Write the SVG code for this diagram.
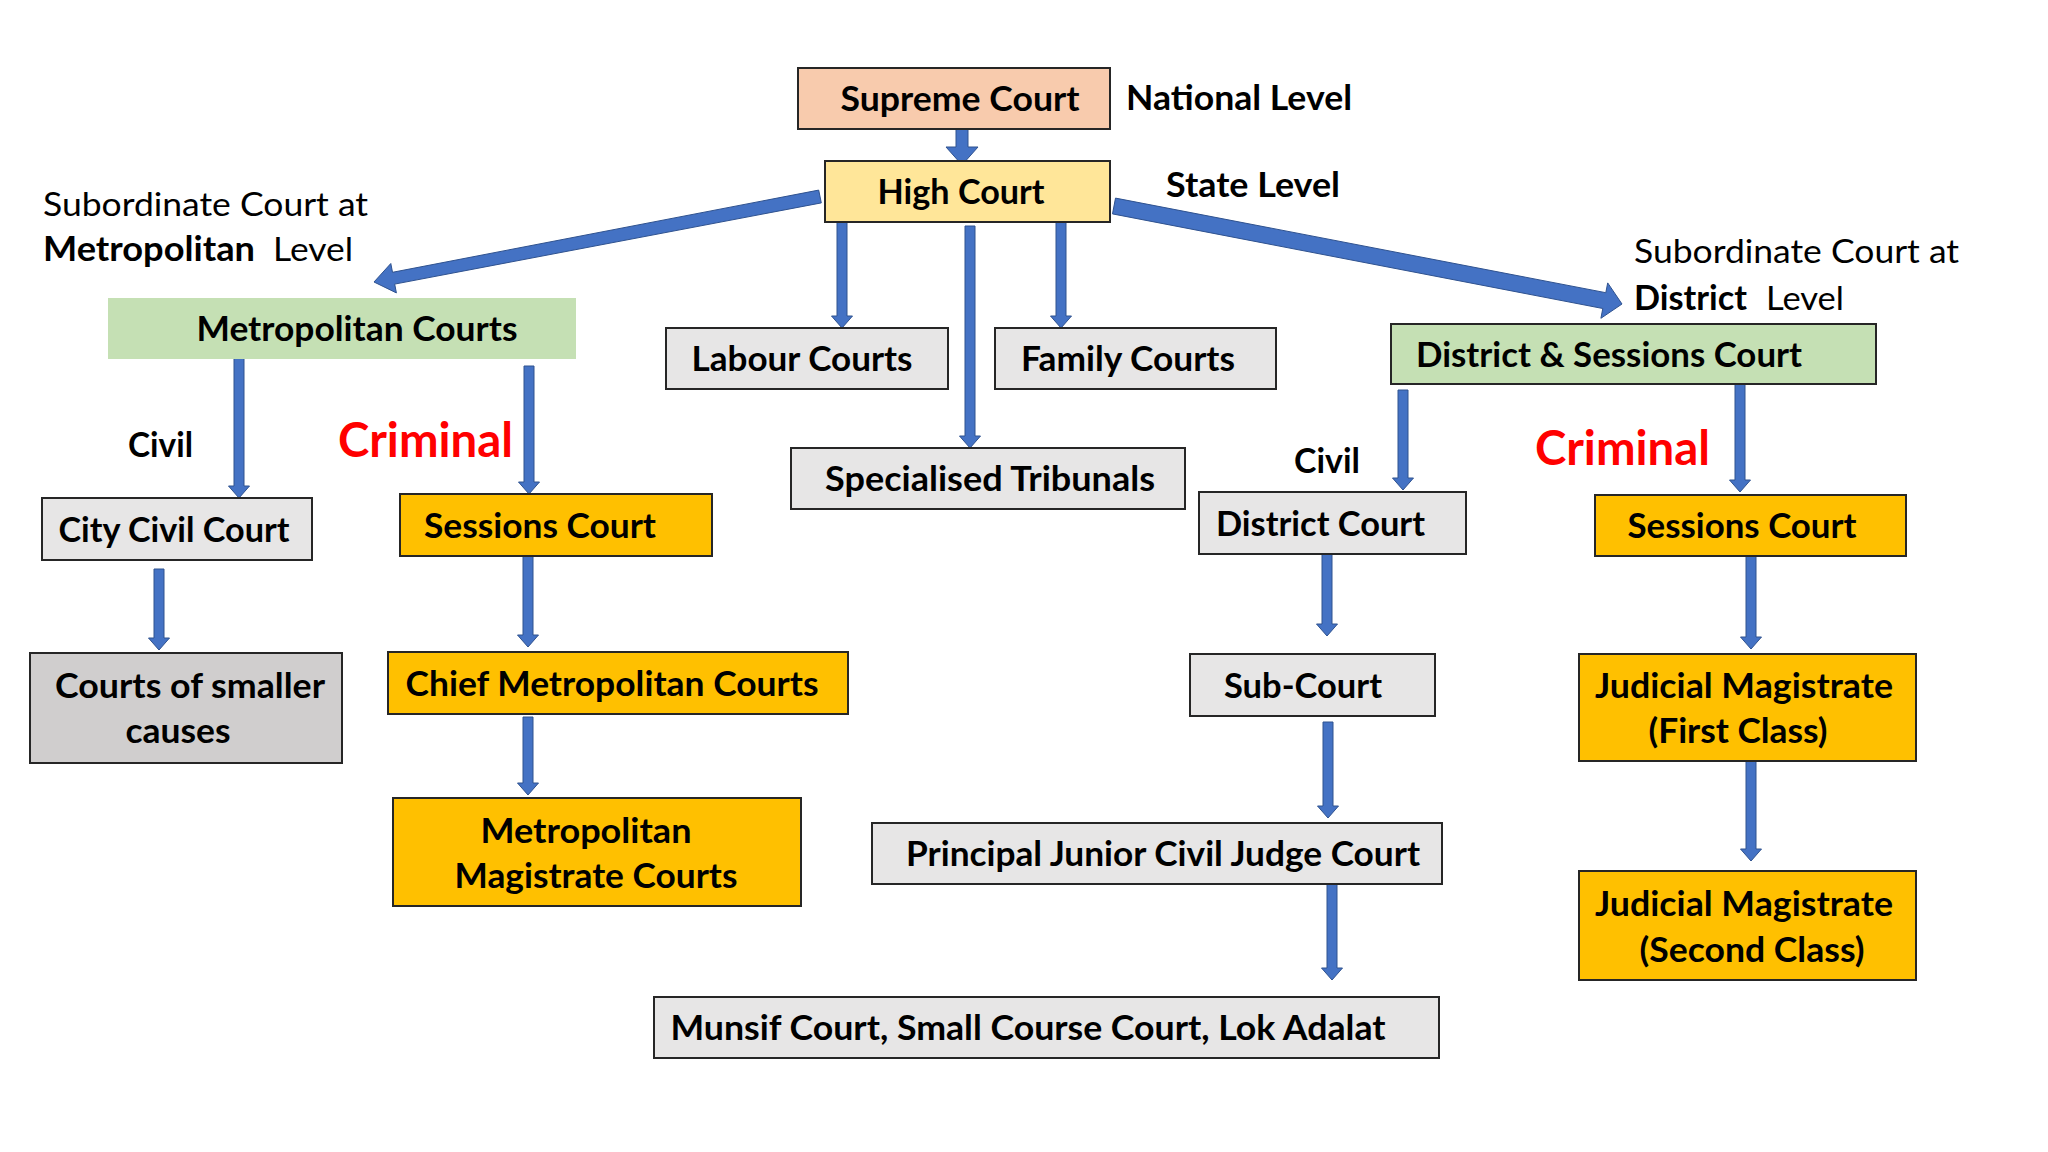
<svg xmlns="http://www.w3.org/2000/svg" width="2048" height="1152" viewBox="0 0 2048 1152">
<style>
  .box { stroke: #262626; stroke-width: 2; }
  .peach { fill: #F8CBAD; }
  .lyellow { fill: #FFE699; }
  .green { fill: #C5E0B4; }
  .gray { fill: #E7E6E6; }
  .dgray { fill: #D0CECE; }
  .orange { fill: #FFC000; }
  .t { font-family: Lato, "Open Sans", "Liberation Sans", sans-serif; font-weight: 700; font-size: 34px; fill: #000; }
  .c { text-anchor: middle; }
  .reg { font-family: Lato, "Open Sans", "Liberation Sans", sans-serif; font-weight: 400; font-size: 33px; fill: #000; }
  .crim { font-family: Lato, "Open Sans", "Liberation Sans", sans-serif; font-weight: 700; font-size: 47px; fill: #FF0000; }
  .arr { fill: #4472C4; stroke: #2F528F; stroke-width: 1; }
</style>
<rect width="2048" height="1152" fill="#FFFFFF"/>

<g id="connectors">
  <polygon class="arr" points="956,129 968,129 968,147 978,147 962,165 946,147 956,147"/>
  <polygon class="arr" points="818.7,190.1 392.5,272.3 390.8,263.5 374,282 396.4,292.9 394.7,284.1 821.3,202.9"/>
  <polygon class="arr" points="1115.5,198.1 1605.8,292.7 1607.7,282.9 1622,304 1600.9,318.3 1602.8,308.5 1112.5,213.9"/>
  <polygon class="arr" points="837,219 847,219 847,316 852.5,316 842,328 831.5,316 837,316"/>
  <polygon class="arr" points="965,226 975,226 975,436 980.5,436 970,448 959.5,436 965,436"/>
  <polygon class="arr" points="1056,219 1066,219 1066,316 1071.5,316 1061,328 1050.5,316 1056,316"/>
  <polygon class="arr" points="234,355 244,355 244,486 249.5,486 239,498 228.5,486 234,486"/>
  <polygon class="arr" points="524,366 534,366 534,482 539.5,482 529,494 518.5,482 524,482"/>
  <polygon class="arr" points="154,569 164,569 164,638 169.5,638 159,650 148.5,638 154,638"/>
  <polygon class="arr" points="523,556 533,556 533,635 538.5,635 528,647 517.5,635 523,635"/>
  <polygon class="arr" points="523,717 533,717 533,783 538.5,783 528,795 517.5,783 523,783"/>
  <polygon class="arr" points="1398,390 1408,390 1408,478 1413.5,478 1403,490 1392.5,478 1398,478"/>
  <polygon class="arr" points="1735,384 1745,384 1745,480 1750.5,480 1740,492 1729.5,480 1735,480"/>
  <polygon class="arr" points="1322,554 1332,554 1332,624 1337.5,624 1327,636 1316.5,624 1322,624"/>
  <polygon class="arr" points="1323,722 1333,722 1333,806 1338.5,806 1328,818 1317.5,806 1323,806"/>
  <polygon class="arr" points="1327,883 1337,883 1337,968 1342.5,968 1332,980 1321.5,968 1327,968"/>
  <polygon class="arr" points="1746,554 1756,554 1756,637 1761.5,637 1751,649 1740.5,637 1746,637"/>
  <polygon class="arr" points="1746,761 1756,761 1756,849 1761.5,849 1751,861 1740.5,849 1746,849"/>
</g>

<g id="supreme-court">
  <rect class="box peach" x="798" y="68" width="312" height="61"/>
  <text class="t c" x="960" y="111" textLength="239" lengthAdjust="spacingAndGlyphs">Supreme Court</text>
</g>
<g id="national-level">
  <text class="t" x="1126" y="110" textLength="226" lengthAdjust="spacingAndGlyphs">National Level</text>
</g>

<g id="high-court">
  <rect class="box lyellow" x="825" y="161" width="285" height="61"/>
  <text class="t c" x="961" y="204" textLength="167" lengthAdjust="spacingAndGlyphs">High Court</text>
</g>
<g id="state-level">
  <text class="t" x="1166" y="197" textLength="174" lengthAdjust="spacingAndGlyphs">State Level</text>
</g>

<g id="label-metropolitan-level">
  <text class="reg" x="43" y="216" textLength="325" lengthAdjust="spacingAndGlyphs">Subordinate Court at</text>
  <text class="t" x="43" y="261" textLength="212" lengthAdjust="spacingAndGlyphs">Metropolitan</text>
  <text class="reg" x="273" y="261" textLength="80" lengthAdjust="spacingAndGlyphs">Level</text>
</g>

<g id="metropolitan-courts">
  <rect class="green" x="108" y="298" width="468" height="61"/>
  <text class="t c" x="357" y="341" textLength="321" lengthAdjust="spacingAndGlyphs">Metropolitan Courts</text>
</g>

<g id="labour-courts">
  <rect class="box gray" x="666" y="328" width="282" height="61"/>
  <text class="t c" x="802" y="371" textLength="221" lengthAdjust="spacingAndGlyphs">Labour Courts</text>
</g>

<g id="family-courts">
  <rect class="box gray" x="995" y="328" width="281" height="61"/>
  <text class="t c" x="1128" y="371" textLength="214" lengthAdjust="spacingAndGlyphs">Family Courts</text>
</g>

<g id="specialised-tribunals">
  <rect class="box gray" x="791" y="448" width="394" height="61"/>
  <text class="t c" x="990" y="491" textLength="330" lengthAdjust="spacingAndGlyphs">Specialised Tribunals</text>
</g>

<g id="label-district-level">
  <text class="reg" x="1634" y="263" textLength="325" lengthAdjust="spacingAndGlyphs">Subordinate Court at</text>
  <text class="t" x="1634" y="310" textLength="113" lengthAdjust="spacingAndGlyphs">District</text>
  <text class="reg" x="1766" y="310" textLength="78" lengthAdjust="spacingAndGlyphs">Level</text>
</g>

<g id="district-sessions-court">
  <rect class="box green" x="1391" y="324" width="485" height="60"/>
  <text class="t" x="1416" y="367" textLength="386" lengthAdjust="spacingAndGlyphs">District &amp; Sessions Court</text>
</g>

<g id="label-civil-left">
  <text class="t" x="128" y="457" textLength="65" lengthAdjust="spacingAndGlyphs">Civil</text>
</g>
<g id="label-criminal-left">
  <text class="crim" x="338" y="457" textLength="175" lengthAdjust="spacingAndGlyphs">Criminal</text>
</g>

<g id="city-civil-court">
  <rect class="box gray" x="42" y="498" width="270" height="62"/>
  <text class="t c" x="174" y="542" textLength="231" lengthAdjust="spacingAndGlyphs">City Civil Court</text>
</g>

<g id="sessions-court-left">
  <rect class="box orange" x="400" y="494" width="312" height="62"/>
  <text class="t" x="424" y="538" textLength="232" lengthAdjust="spacingAndGlyphs">Sessions Court</text>
</g>

<g id="courts-of-smaller-causes">
  <rect class="box dgray" x="30" y="653" width="312" height="110"/>
  <text class="t c" x="190" y="698" textLength="270" lengthAdjust="spacingAndGlyphs">Courts of smaller</text>
  <text class="t c" x="178" y="743" textLength="105" lengthAdjust="spacingAndGlyphs">causes</text>
</g>

<g id="chief-metropolitan-courts">
  <rect class="box orange" x="388" y="652" width="460" height="62"/>
  <text class="t c" x="612" y="696" textLength="413" lengthAdjust="spacingAndGlyphs">Chief Metropolitan Courts</text>
</g>

<g id="metropolitan-magistrate-courts">
  <rect class="box orange" x="393" y="798" width="408" height="108"/>
  <text class="t c" x="586" y="843" textLength="211" lengthAdjust="spacingAndGlyphs">Metropolitan</text>
  <text class="t c" x="596" y="888" textLength="283" lengthAdjust="spacingAndGlyphs">Magistrate Courts</text>
</g>

<g id="label-civil-right">
  <text class="t" x="1294" y="473" textLength="66" lengthAdjust="spacingAndGlyphs">Civil</text>
</g>
<g id="label-criminal-right">
  <text class="crim" x="1535" y="465" textLength="175" lengthAdjust="spacingAndGlyphs">Criminal</text>
</g>

<g id="district-court">
  <rect class="box gray" x="1199" y="492" width="267" height="62"/>
  <text class="t" x="1216" y="536" textLength="209" lengthAdjust="spacingAndGlyphs">District Court</text>
</g>

<g id="sessions-court-right">
  <rect class="box orange" x="1595" y="495" width="311" height="61"/>
  <text class="t c" x="1742" y="538" textLength="229" lengthAdjust="spacingAndGlyphs">Sessions Court</text>
</g>

<g id="sub-court">
  <rect class="box gray" x="1190" y="654" width="245" height="62"/>
  <text class="t c" x="1303" y="698" textLength="158" lengthAdjust="spacingAndGlyphs">Sub-Court</text>
</g>

<g id="principal-junior-civil-judge-court">
  <rect class="box gray" x="872" y="823" width="570" height="61"/>
  <text class="t c" x="1163" y="866" textLength="514" lengthAdjust="spacingAndGlyphs">Principal Junior Civil Judge Court</text>
</g>

<g id="munsif-court">
  <rect class="box gray" x="654" y="997" width="785" height="61"/>
  <text class="t c" x="1028" y="1040" textLength="715" lengthAdjust="spacingAndGlyphs">Munsif Court, Small Course Court, Lok Adalat</text>
</g>

<g id="judicial-magistrate-first">
  <rect class="box orange" x="1579" y="654" width="337" height="107"/>
  <text class="t c" x="1744" y="698" textLength="298" lengthAdjust="spacingAndGlyphs">Judicial Magistrate</text>
  <text class="t c" x="1738" y="743" textLength="179" lengthAdjust="spacingAndGlyphs">(First Class)</text>
</g>

<g id="judicial-magistrate-second">
  <rect class="box orange" x="1579" y="871" width="337" height="109"/>
  <text class="t c" x="1744" y="916" textLength="298" lengthAdjust="spacingAndGlyphs">Judicial Magistrate</text>
  <text class="t c" x="1752" y="962" textLength="225" lengthAdjust="spacingAndGlyphs">(Second Class)</text>
</g>
</svg>
